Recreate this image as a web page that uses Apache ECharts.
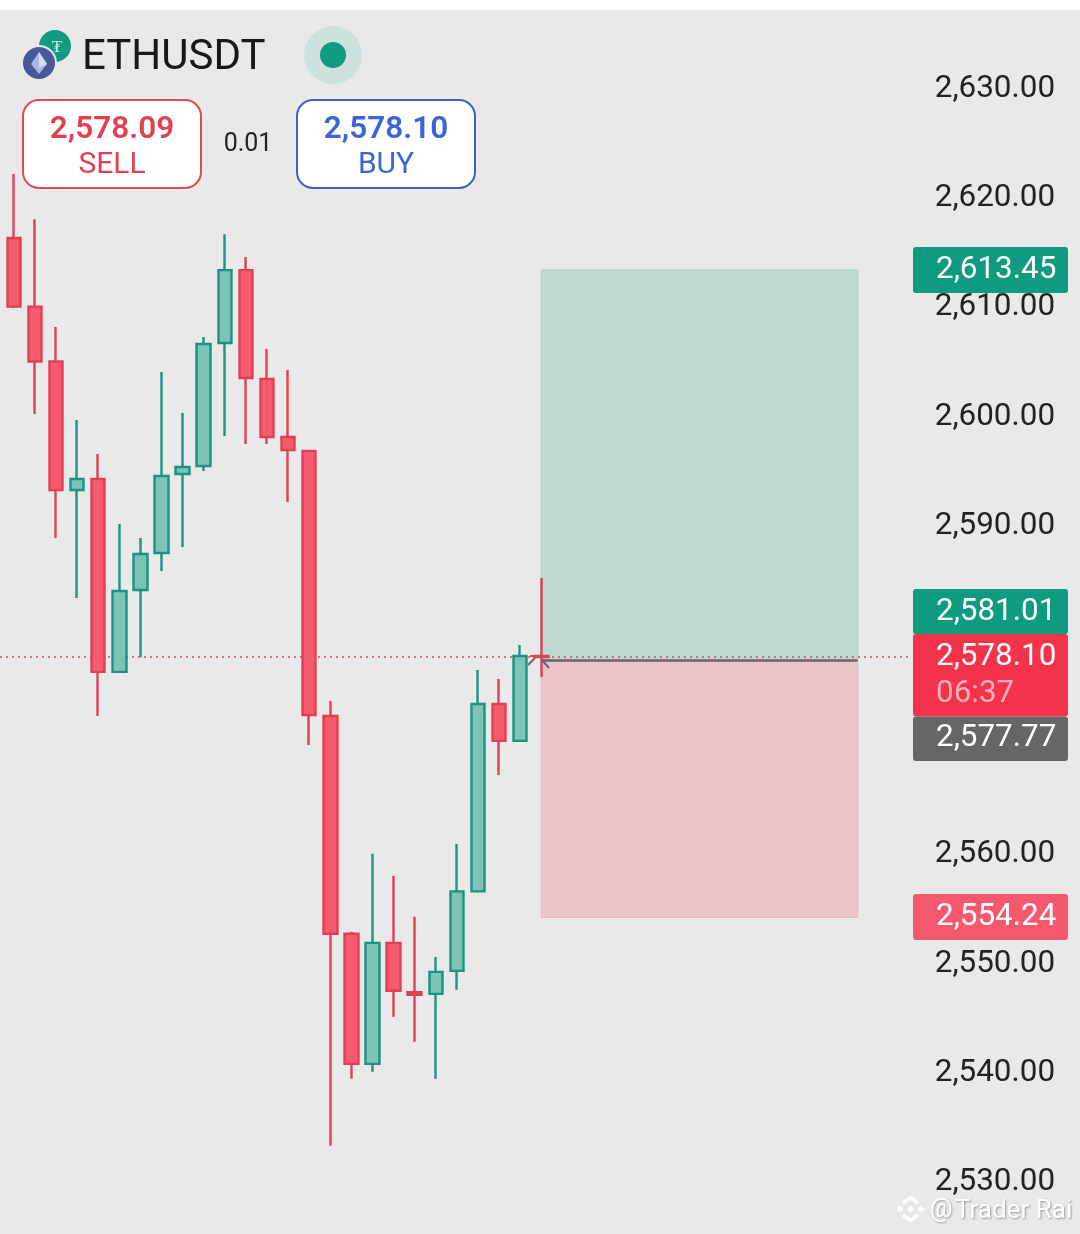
<!DOCTYPE html>
<html>
<head>
<meta charset="utf-8">
<style>
  html, body { margin: 0; padding: 0; background: #fff; }
  #chart { width: 1080px; height: 1234px; background: linear-gradient(#fff 10px, #e9e9e9 10px); }
</style>
<script src="https://cdn.jsdelivr.net/npm/echarts@6/dist/echarts.min.js"></script>
</head>
<body>
<div id="chart"></div>
<script>
const symbol = 'ETHUSDT'
// slots past the last candle are empty, the chart leaves room on the right
const categories = ['1', '2', '3', '4', '5', '6', '7', '8', '9', '10', '11', '12', '13', '14', '15', '16', '17', '18', '19', '20', '21', '22', '23', '24', '25', '26', '27', '28', '29', '30', '31', '32', '33', '34', '35', '36', '37', '38', '39', '40', '41', '42', '43', '44', '45', '46', '47', '48', '49', '50']
const opens = [2616.36, 2610.09, 2605.07, 2593.32, 2594.33, 2576.69, 2584.18, 2587.56, 2594.78, 2595.52, 2606.76, 2613.43, 2603.47, 2598.17, 2596.9, 2572.66, 2552.74, 2540.85, 2551.91, 2547.4, 2547.25, 2549.35, 2556.62, 2573.76, 2570.38, 2578.15]
const closes = [2610.09, 2605.07, 2593.32, 2594.33, 2576.69, 2584.09, 2587.47, 2594.6, 2595.42, 2606.67, 2613.43, 2603.56, 2598.17, 2596.98, 2572.75, 2552.74, 2540.85, 2551.91, 2547.53, 2547.16, 2549.26, 2556.62, 2573.76, 2570.38, 2578.15, 2578.05]
const lows = [2609.96, 2600.27, 2588.93, 2583.45, 2572.66, 2576.69, 2578.06, 2585.92, 2588.11, 2595.06, 2598.26, 2597.53, 2597.53, 2592.22, 2570.01, 2533.36, 2539.48, 2540.12, 2545.15, 2542.86, 2539.48, 2547.62, 2556.62, 2567.27, 2570.38, 2576.23]
const highs = [2622.21, 2618.09, 2608.22, 2599.72, 2596.61, 2590.21, 2588.93, 2604.11, 2600.36, 2607.31, 2616.72, 2614.62, 2606.21, 2604.29, 2596.98, 2574.03, 2552.92, 2560.05, 2558.04, 2554.29, 2550.63, 2560.96, 2576.87, 2576.05, 2579.15, 2585.28]

const bidPrice = 2578.09
const askPrice = 2578.1
const spread = '0.01'
const takeProfit = 2613.45
const stopLoss = 2554.24
const entryPrice = 2577.77
const floatingPrice = 2581.01
const countdown = '06:37'

const GREEN = '#0f9b80'
const RED = '#f33349'
const fontFamily = 'Roboto'

function price(v) {
  return v.toLocaleString('en-US', { minimumFractionDigits: 2, maximumFractionDigits: 2 })
}

// price tag on the right hand side
function tag(top, height, color, lines) {
  const items = [{
    type: 'rect',
    z: 50,
    shape: { x: 913, y: top, width: 155, height: height, r: 3 },
    style: { fill: color }
  }]
  lines.forEach(l => {
    items.push({
      type: 'text',
      z: 51,
      style: {
        x: 936, y: l.y, text: l.text, fill: l.color || '#fff',
        font: '31.4px ' + fontFamily, verticalAlign: 'middle'
      }
    })
  })
  return items
}

function label(x, y, text, font, color) {
  return {
    type: 'text',
    z: 51,
    style: { x: x, y: y, text: text, fill: color, font: font + ' ' + fontFamily, align: 'center', verticalAlign: 'middle' }
  }
}

function button(x, color, textColor, value, name) {
  return [
    {
      type: 'rect',
      z: 50,
      shape: { x: x, y: 100, width: 178, height: 88, r: 16 },
      style: { fill: '#fff', stroke: color, lineWidth: 2 }
    },
    label(x + 89, 130, value, '600 31.5px', textColor),
    label(x + 89, 165, name, '30px', textColor)
  ]
}

function diamond(cx, cy, r, fill) {
  return {
    type: 'polygon',
    z: 60,
    shape: { points: [[cx, cy - r], [cx + r, cy], [cx, cy + r], [cx - r, cy]] },
    style: { fill: fill }
  }
}

function chevron(points) {
  return {
    type: 'polyline',
    z: 60,
    shape: { points: points },
    style: { stroke: '#fff', lineWidth: 3.5, fill: null }
  }
}

const header = [
  { type: 'circle', z: 50, shape: { cx: 55, cy: 46, r: 16 }, style: { fill: GREEN } },
  label(57, 48, '₮', '17px', '#cfeee6'),
  { type: 'circle', z: 51, shape: { cx: 39, cy: 63, r: 18 }, style: { fill: '#e9e9e9' } },
  { type: 'circle', z: 52, shape: { cx: 39, cy: 63, r: 16 }, style: { fill: '#47589b' } },
  { type: 'polygon', z: 53, shape: { points: [[39, 52], [47, 64], [39, 74], [31, 64]] }, style: { fill: '#a9b6e4' } },
  { type: 'polygon', z: 54, shape: { points: [[39, 52], [47, 64], [39, 68]] }, style: { fill: '#d5dcf5' } },
  {
    type: 'text', z: 51,
    style: { x: 82, y: 58, text: symbol, fill: '#16181c', font: '42px ' + fontFamily, verticalAlign: 'middle' }
  },
  { type: 'circle', z: 50, shape: { cx: 333, cy: 55, r: 29 }, style: { fill: '#cde2de' } },
  { type: 'circle', z: 51, shape: { cx: 333, cy: 55, r: 13 }, style: { fill: GREEN } },
  label(248, 145, spread, '25px', '#222')
]

// little handle around the last candle
const handle = [
  { type: 'polyline', z: 40, shape: { points: [[528, 665], [535, 658]] }, style: { stroke: '#666', lineWidth: 2, fill: null } },
  { type: 'polyline', z: 40, shape: { points: [[542, 660], [549, 668]] }, style: { stroke: '#666', lineWidth: 2, fill: null } },
  { type: 'polyline', z: 40, shape: { points: [[530, 656], [544, 656]] }, style: { stroke: '#d9485a', lineWidth: 2, fill: null } }
]

const watermark = [
  chevron([[903, 1203], [910.5, 1197.5], [918, 1203]]),
  chevron([[903, 1215], [910.5, 1220.5], [918, 1215]]),
  diamond(900, 1209, 3.5, '#fff'),
  diamond(921, 1209, 3.5, '#fff'),
  diamond(910.5, 1209, 3.5, '#fff'),
  {
    type: 'text', z: 60,
    style: {
      x: 930, y: 1211, text: '@', fill: '#fff', font: '25px ' + fontFamily, verticalAlign: 'middle',
      textShadowColor: 'rgba(0,0,0,0.35)', textShadowBlur: 2, textShadowOffsetX: 1, textShadowOffsetY: 1
    }
  },
  {
    type: 'text', z: 60,
    style: {
      x: 955, y: 1211, text: 'Trader Rai', fill: '#fff', font: '26px ' + fontFamily, verticalAlign: 'middle',
      textShadowColor: 'rgba(0,0,0,0.35)', textShadowBlur: 2, textShadowOffsetX: 1, textShadowOffsetY: 1
    }
  }
]

const graphics = [].concat(
  header,
  button(23, '#dc4a5a', '#df4254', price(bidPrice), 'SELL'),
  button(297, '#3c63c0', '#3b65d6', price(askPrice), 'BUY'),
  tag(247, 46, GREEN, [{ y: 270, text: price(takeProfit) }]),
  tag(589, 45, GREEN, [{ y: 612, text: price(floatingPrice) }]),
  tag(634, 82.5, RED, [{ y: 657, text: price(askPrice) }, { y: 694, text: countdown, color: '#f8b0b8' }]),
  tag(716.5, 44.5, '#666666', [{ y: 738, text: price(entryPrice) }]),
  tag(894, 46, '#f6596d', [{ y: 917, text: price(stopLoss) }]),
  handle,
  watermark
)

const chart = echarts.init(document.getElementById('chart'))

chart.setOption({
  animation: false,
  grid: { left: 3.2, top: 88.9, width: 1055, height: 1093.6 },
  xAxis: {
    type: 'category',
    data: categories,
    show: false
  },
  yAxis: {
    type: 'value',
    position: 'right',
    min: 2530,
    max: 2630,
    interval: 10,
    axisLine: { show: false },
    axisTick: { show: false },
    splitLine: { show: false },
    axisLabel: {
      inside: true,
      margin: 3.15,
      color: '#222',
      fontFamily: fontFamily,
      fontSize: 31.4,
      padding: [0, 0, 5, 0],
      formatter: v => price(v)
    }
  },
  graphic: { elements: graphics },
  series: [
    {
      // risk / reward zones sit behind the candles
      type: 'line',
      z: 1,
      data: [],
      silent: true,
      markArea: {
        silent: true,
        data: [
          [
            { xAxis: 25, yAxis: takeProfit, itemStyle: { color: '#bfd9d3', borderColor: '#a9d0c7', borderWidth: 1 } },
            { xAxis: 40, yAxis: entryPrice }
          ],
          [
            { xAxis: 25, yAxis: entryPrice, itemStyle: { color: '#edc4c9', borderColor: '#f0b4bb', borderWidth: 1 } },
            { xAxis: 40, yAxis: stopLoss }
          ]
        ]
      },
      markLine: {
        silent: true,
        symbol: 'none',
        label: { show: false },
        data: [
          [
            { x: 0, yAxis: askPrice, lineStyle: { color: '#d9485a', type: [2, 4], width: 1.5 } },
            { x: 910, yAxis: askPrice }
          ],
          [
            { xAxis: 25, yAxis: entryPrice, lineStyle: { color: '#666', type: 'solid', width: 2.5 } },
            { xAxis: 40, yAxis: entryPrice }
          ]
        ]
      }
    },
    {
      type: 'candlestick',
      z: 5,
      barWidth: 14,
      itemStyle: {
        color: '#7cc4b6',
        color0: '#f75c6e',
        borderColor: '#1c9280',
        borderColor0: '#df4055',
        borderWidth: 2.4
      },
      data: opens.map((o, i) => [o, closes[i], lows[i], highs[i]])
    }
  ]
})

window.addEventListener('resize', () => chart.resize())
</script>
</body>
</html>
